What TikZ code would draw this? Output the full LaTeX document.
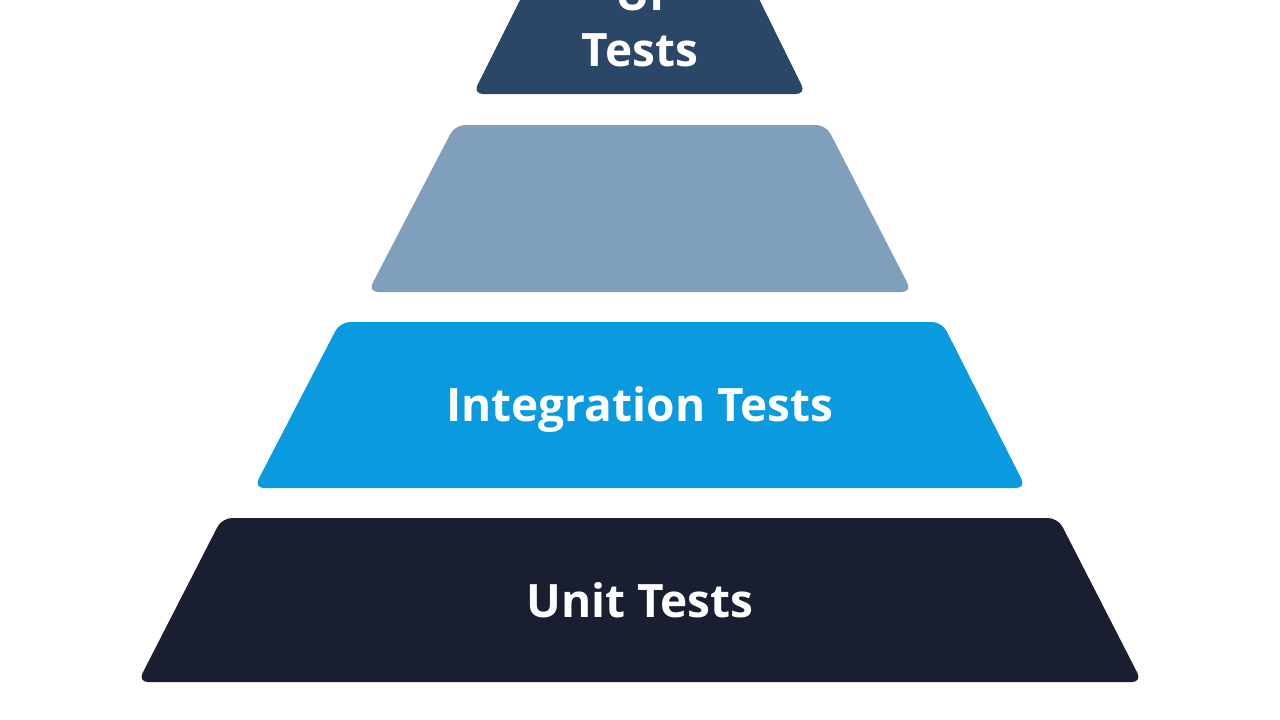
\documentclass[tikz,border=0pt]{standalone}
\usepackage{fontspec}
\setmainfont{Open Sans}
\definecolor{cA}{HTML}{2B4768}
\definecolor{cB}{HTML}{809FBD}
\definecolor{cC}{HTML}{0A9ADF}
\definecolor{cD}{HTML}{1A1E31}
\tikzset{lay/.style={rounded corners=10pt},lbl/.style={text=white,font=\bfseries\fontsize{46}{50}\selectfont,align=center}}
\begin{document}
\begin{tikzpicture}[x=1pt,y=-1pt]
\useasboundingbox (0,0) rectangle (1280,720);
\clip (0,0) rectangle (1280,720);
\fill[white] (0,0) rectangle (1280,720);
\fill[cA,lay] (560,-80) -- (720,-80) -- (806,94) -- (473,94) -- cycle;
\fill[cB,lay] (455,125) -- (826,125) -- (912,292) -- (368,292) -- cycle;
\fill[cC,lay] (340,322) -- (942,322) -- (1026,488) -- (254,488) -- cycle;
\fill[cD,lay] (222,518) -- (1058,518) -- (1142,682) -- (138,682) -- cycle;
\node[lbl] (t1) at (640,50) {Tests};
\node[lbl] (t0) at (640,-6) {UI};
\node[lbl] (t3) at (640,410) {Integration Tests};
\node[lbl] (t4) at (640,600) {Unit Tests};
\end{tikzpicture}
\end{document}
